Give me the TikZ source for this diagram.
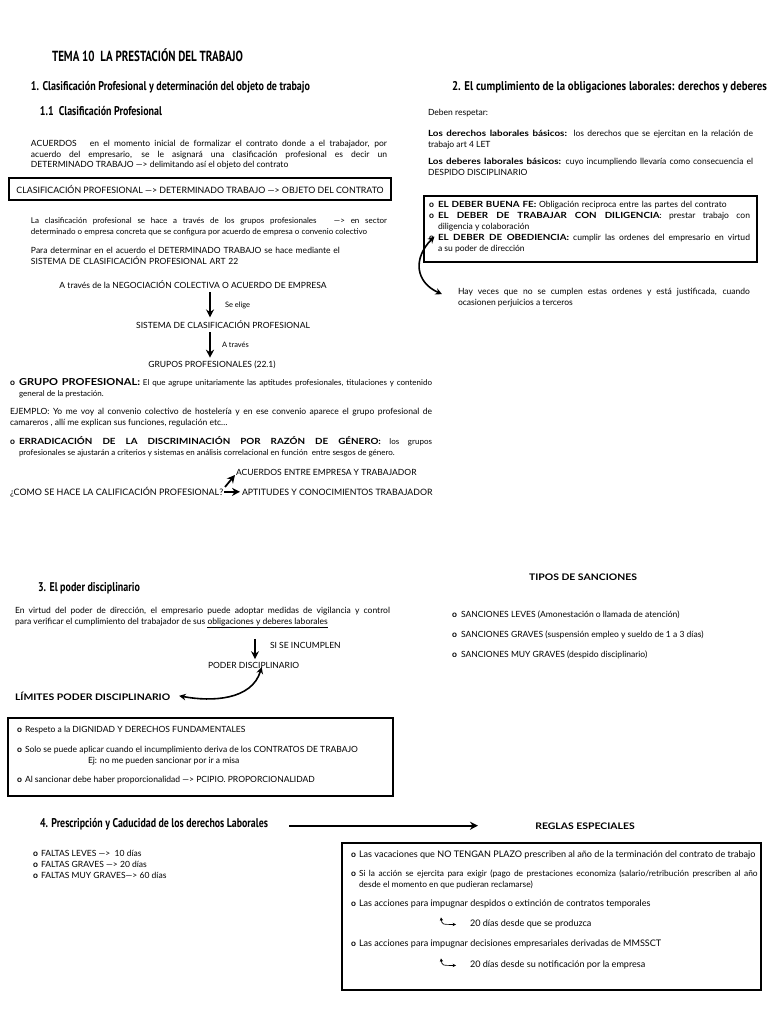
\documentclass[tikz,border=0pt]{standalone}
\usepackage{fontspec}
\setmainfont{Lato}
\newfontfamily\hfont{PT Sans}
\newfontfamily\wideb{Lato}[FakeStretch=1.15]
\usepackage{graphicx}
\usetikzlibrary{arrows.meta,calc}
\newcommand\bodyf{\fontsize{6.4}{8.25}\selectfont}
\newcommand\narf{\fontsize{6.0}{8.25}\selectfont}
\newcommand\smallf{\fontsize{5.6}{7}\selectfont}
\newcommand\hd[3]{\resizebox{#1}{\height}{\hfont\bfseries\fontsize{#2}{#2}\selectfont #3}}
\newcommand\wb[1]{{\wideb\bfseries #1}}
\newcommand\bu{\textbf{o}}
\tikzset{
  every node/.style={inner sep=0pt,outer sep=0pt},
  t/.style={anchor=base west,font=\bodyf},
  tc/.style={anchor=base,font=\bodyf},
  jpar/.style={anchor=base west,font=\bodyf,align=justify,text width=#1},
  lpar/.style={anchor=base west,font=\bodyf,align=left,text width=#1},
  bt/.style={anchor=base,font=\fontsize{6.8}{8}\selectfont\wideb\bfseries},
  arr/.style={line width=1.3pt,-{Stealth[length=6pt,width=6pt]}},
  carr/.style={line width=1.2pt,{Stealth[length=5pt,width=5pt]}-{Stealth[length=5pt,width=5pt]}},
  harr/.style={line width=0.5pt,{Stealth[length=2.5pt,width=2.5pt]}-{Stealth[length=2.5pt,width=2.5pt]}},
  boxthin/.style={draw,line width=0.9pt,anchor=north west},
  boxthick/.style={draw,line width=1.5pt,anchor=north west},
  f4/.style={anchor=base west,font=\fontsize{6.8}{8.25}\selectfont},
}
\begin{document}
\begin{tikzpicture}[x=0.75pt,y=-0.75pt]
\path[use as bounding box,fill=white] (0,0) rectangle (768,1024);

% ---------- headings
\node[t] (title) at (52,62) {\hd{143.25pt}{11}{TEMA 10\ \ LA PRESTACIÓN DEL TRABAJO}};
\node[t] (h1) at (31,91) {\hd{209.25pt}{9.5}{1. Clasificación Profesional y determinación del objeto de trabajo}};
\node[t] (h11) at (40,116) {\hd{91.5pt}{9.5}{1.1\ \ Clasificación Profesional}};
\node[t] (h2) at (452,91) {\hd{236.25pt}{9.5}{2. El cumplimiento de la obligaciones laborales: derechos y deberes}};
\node[t] (h3) at (38,591) {\hd{76.5pt}{9.5}{3. El poder disciplinario}};
\node[t] (h4) at (40,827) {\hd{171pt}{9.5}{4. Prescripción y Caducidad de los derechos Laborales}};

% ---------- section 1
\node[jpar=267pt] (p1) at (31,146) {ACUERDOS\ \ \ en el momento inicial de formalizar el contrato donde a el trabajador, por\linebreak acuerdo del empresario, se le asignará una clasificación profesional es decir un\linebreak DETERMINADO TRABAJO —> delimitando así el objeto del contrato};
\node[draw,line width=0.9pt,minimum width=286.5pt,minimum height=16.5pt,font=\fontsize{6.6}{8}\selectfont] (cbox) at (200,189) {CLASIFICACIÓN PROFESIONAL —> DETERMINADO TRABAJO —> OBJETO DEL CONTRATO};
\node[jpar=267pt,font=\narf] (p2) at (31,223) {La clasificación profesional se hace a través de los grupos profesionales \ \ —> en sector\linebreak determinado o empresa concreta que se configura por acuerdo de empresa o convenio colectivo};
\node[lpar=300pt] (p3) at (31,253) {Para determinar en el acuerdo el DETERMINADO TRABAJO se hace mediante el\\SISTEMA DE CLASIFICACIÓN PROFESIONAL ART 22};

\coordinate (col1) at (210,0);
\node[tc] (n1) at (193,288) {A través de la NEGOCIACIÓN COLECTIVA O ACUERDO DE EMPRESA};
\node[tc] (n2) at (223,328) {SISTEMA DE CLASIFICACIÓN PROFESIONAL};
\node[tc] (n3) at (212,367) {GRUPOS PROFESIONALES (22.1)};
\draw[arr,shorten <=3pt,shorten >=2pt] (n1.south -| col1) -- (n2.north -| col1);
\draw[arr,shorten <=3pt,shorten >=2pt] (n2.south -| col1) -- (n3.north -| col1);
\node[t,font=\smallf] (l1) at (225,307) {Se elige};
\node[t,font=\smallf] (l2) at (222,347) {A través};

\node[t] (b1) at (10,385) {\bu};
\node[jpar=309.75pt,font=\narf] (p4) at (19,385) {{\fontsize{7.2}{8.25}\selectfont\wb{GRUPO PROFESIONAL:}} El que agrupe unitariamente las aptitudes profesionales, titulaciones y contenido\linebreak general de la prestación.};
\node[jpar=316.5pt] (p5) at (10,414) {EJEMPLO: Yo me voy al convenio colectivo de hostelería y en ese convenio aparece el grupo profesional de\linebreak camareros , allí me explican sus funciones, regulación etc…};
\node[t] (b2) at (10,444) {\bu};
\node[jpar=309.75pt,font=\narf] (p6) at (19,444) {{\fontsize{6.4}{8.25}\selectfont\wb{ERRADICACIÓN DE LA DISCRIMINACIÓN POR RAZÓN DE GÉNERO:}} los grupos\linebreak profesionales se ajustarán a criterios y sistemas en análisis correlacional en función\ \ entre sesgos de género.};

\node[t,font=\fontsize{6.4}{8}\selectfont] (acu) at (236,475) {ACUERDOS ENTRE EMPRESA Y TRABAJADOR};
\node[t,font=\fontsize{6.7}{8}\selectfont] (como) at (10,495) {¿COMO SE HACE LA CALIFICACIÓN PROFESIONAL?};
\node[t,font=\fontsize{6.6}{8}\selectfont] (apt) at (242,495) {APTITUDES Y CONOCIMIENTOS TRABAJADOR};
\draw[arr] ($(acu.west)+(-11,15)$) -- ($(acu.west)+(-1,3)$);
\draw[arr] ($(apt.west)+(-18,0)$) -- ($(apt.west)+(-2,0)$);

% ---------- section 2
\node[t] (deb) at (428,115) {Deben respetar:};
\node[jpar=243.75pt] (p7) at (428,136) {\wb{Los derechos laborales básicos:}\ \ los derechos que se ejercitan en la relación de\linebreak trabajo art 4 LET};
\node[jpar=243.75pt] (p8) at (428,164) {\wb{Los deberes laborales básicos:} cuyo incumpliendo llevaría como consecuencia el\linebreak DESPIDO DISCIPLINARIO};
\node[boxthin,minimum width=249.75pt,minimum height=49.5pt] (box2) at (424,196) {};
\node[t] (b3) at (429,207) {\bu};
\node[lpar=234pt] (q1) at (438,207) {\wb{EL DEBER BUENA FE:} Obligación reciproca entre las partes del contrato};
\node[t] (b4) at (429,218) {\bu};
\node[jpar=234pt] (q2) at (438,218) {\wb{EL DEBER DE TRABAJAR CON DILIGENCIA}: prestar trabajo con\linebreak diligencia y colaboración};
\node[t] (b5) at (429,240) {\bu};
\node[jpar=234pt] (q3) at (438,240) {\wb{EL DEBER DE OBEDIENCIA:} cumplir las ordenes del empresario en virtud\linebreak a su poder de dirección};
\node[jpar=219pt] (hay) at (458,294) {Hay veces que no se cumplen estas ordenes y está justificada, cuando\linebreak ocasionen perjuicios a terceros};
\draw[carr] ($(b5.north)+(3,1)$) .. controls (413,258) and (415,282) .. ($(hay.west)+(-16,-3)$);

% ---------- section 3
\node[jpar=281.25pt] (virt) at (15,613) {En virtud del poder de dirección, el empresario puede adoptar medidas de vigilancia y control\linebreak para verificar el cumplimiento del trabajador de sus \underline{obligaciones y deberes laborales}};
\coordinate (col3) at (255,0);
\node[t] (pd) at (208,668) {PODER DISCIPLINARIO};
\draw[arr,shorten <=8pt,shorten >=2pt] (virt.south -| col3) -- (pd.north -| col3);
\node[t] (sise) at (270,648) {SI SE INCUMPLEN};
\node[bt,anchor=base west] (lim) at (15,700) {LÍMITES PODER DISCIPLINARIO};
\draw[carr] ($(pd.south)+(8,-1)$) .. controls (252,700) and (212,702) .. ($(lim.east)+(9,0)$);

\node[boxthick,minimum width=288.75pt,minimum height=58.5pt] (box3) at (8,718) {};
\node[t] (b6) at (17,732) {\bu};
\node[t] (r1) at (25,732) {Respeto a la DIGNIDAD Y DERECHOS FUNDAMENTALES};
\node[t] (b7) at (17,752) {\bu};
\node[t] (r2) at (25,752) {Solo se puede aplicar cuando el incumplimiento deriva de los CONTRATOS DE TRABAJO};
\node[t] (r2b) at (88,763) {Ej: no me pueden sancionar por ir a misa};
\node[t] (b8) at (17,782) {\bu};
\node[t] (r3) at (25,782) {Al sancionar debe haber proporcionalidad —> PCIPIO. PROPORCIONALIDAD};

\node[bt] (tipos) at (583,580) {TIPOS DE SANCIONES};
\node[t] (b9) at (452,617) {\bu};
\node[t] (s1) at (461,617) {SANCIONES LEVES (Amonestación o llamada de atención)};
\node[t] (b10) at (452,637) {\bu};
\node[t] (s2) at (461,637) {SANCIONES GRAVES (suspensión empleo y sueldo de 1 a 3 días)};
\node[t] (b11) at (452,657) {\bu};
\node[t] (s3) at (461,657) {SANCIONES MUY GRAVES (despido disciplinario)};

% ---------- section 4
\node[bt] (reglas) at (585,829) {REGLAS ESPECIALES};
\draw[arr,shorten <=16pt,shorten >=43pt] (h4.east |- reglas.west) -- (reglas.west);

\node[t] (b12) at (33,856) {\bu};
\node[t] (f1) at (41,856) {FALTAS LEVES —>\ \ 10 días};
\node[t] (b13) at (33,867) {\bu};
\node[t] (f2) at (41,867) {FALTAS GRAVES —> 20 días};
\node[t] (b14) at (33,878) {\bu};
\node[t] (f3) at (41,878) {FALTAS MUY GRAVES—> 60 días};

\node[boxthick,line width=1.8pt,minimum width=314.25pt,minimum height=110.25pt] (box4) at (342,843) {};
\node[t] (b15) at (351,857) {\bu};
\node[f4] (g1) at (359,857) {Las vacaciones que NO TENGAN PLAZO prescriben al año de la terminación del contrato de trabajo};
\node[t] (b16) at (351,876) {\bu};
\node[jpar=299pt,font=\fontsize{6.3}{8.25}\selectfont] (g2) at (359,876) {Si la acción se ejercita para exigir (pago de prestaciones economiza (salario/retribución prescriben al año\linebreak desde el momento en que pudieran reclamarse)};
\node[t] (b17) at (351,906) {\bu};
\node[f4] (g3) at (359,906) {Las acciones para impugnar despidos o extinción de contratos temporales};
\node[f4] (g3b) at (470,926) {20 días desde que se produzca};
\draw[harr] ($(g3b.west)+(-29,-6)$) .. controls ($(g3b.west)+(-28,1)$) .. ($(g3b.west)+(-14,1)$);
\node[t] (b18) at (351,946) {\bu};
\node[f4] (g4) at (359,946) {Las acciones para impugnar decisiones empresariales derivadas de MMSSCT};
\node[f4] (g4b) at (470,967) {20 días desde su notificación por la empresa};
\draw[harr] ($(g4b.west)+(-29,-6)$) .. controls ($(g4b.west)+(-28,1)$) .. ($(g4b.west)+(-14,1)$);
\end{tikzpicture}
\end{document}
